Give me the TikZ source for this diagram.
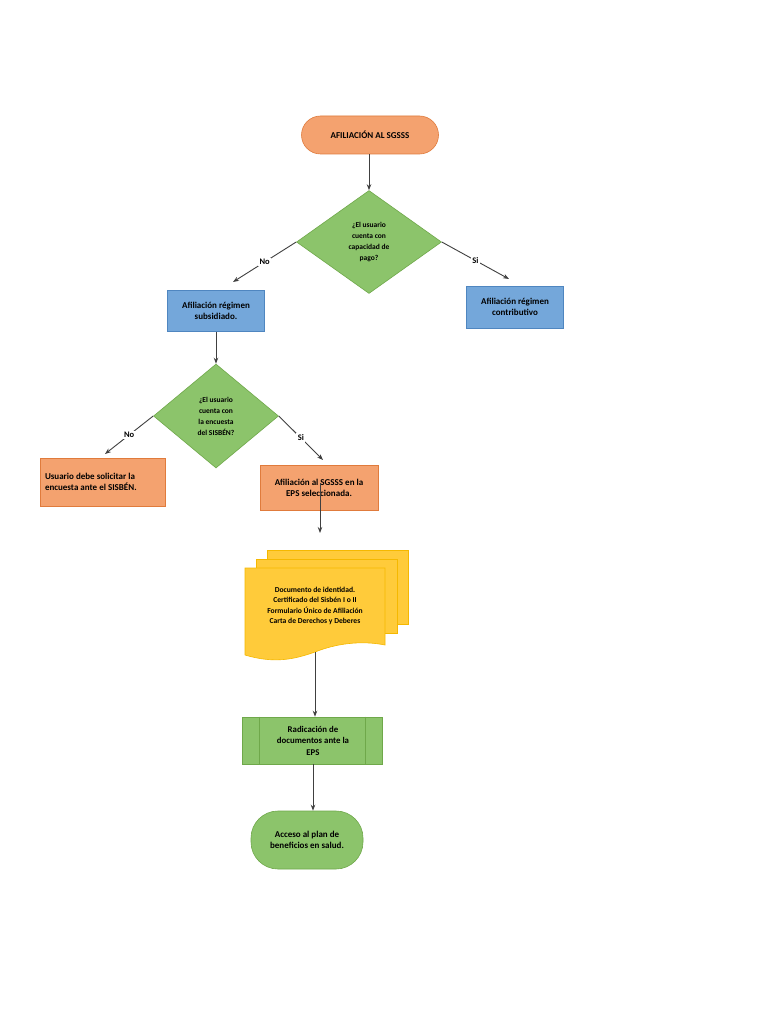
\documentclass[tikz,border=0pt]{standalone}
\usepackage{fontspec}
\setmainfont{Carlito}
\usetikzlibrary{shapes.geometric,arrows.meta}
\definecolor{orfill}{HTML}{F4A26F}
\definecolor{ordraw}{HTML}{E07B3C}
\definecolor{blfill}{HTML}{74A7DA}
\definecolor{bldraw}{HTML}{4F86C0}
\definecolor{grfill}{HTML}{8CC46B}
\definecolor{grdraw}{HTML}{6FA84A}
\definecolor{yefill}{HTML}{FFCB3A}
\definecolor{yedraw}{HTML}{F5B800}
\definecolor{arr}{HTML}{404040}
\tikzset{
  every node/.style={font=\bfseries\fontsize{9}{11}\selectfont, text=black, align=center},
  smalltxt/.style={font=\bfseries\fontsize{7.5}{11}\selectfont},
  termor/.style={draw=ordraw, fill=orfill, line width=0.6pt, rounded corners=19pt, minimum width=137pt, minimum height=38pt},
  blbox/.style={draw=bldraw, fill=blfill, line width=0.6pt, minimum width=97pt, minimum height=41pt, inner sep=2pt},
  orbox/.style={draw=ordraw, fill=orfill, line width=0.6pt, inner sep=2pt},
  dec/.style={diamond, draw=grdraw, fill=grfill, line width=0.6pt, inner sep=0pt, smalltxt},
  conn/.style={draw=arr, line width=0.9pt, -{Stealth[length=6pt,width=4.5pt]}},
  lbl/.style={fill=white, inner sep=1.5pt, font=\bfseries\fontsize{8.5}{10}\selectfont},
  docsheet/.style={draw=yedraw, fill=yefill, line width=0.6pt},
}
\begin{document}
\begin{tikzpicture}[x=1pt,y=-1pt]
\useasboundingbox[fill=white] (0,0) rectangle (768,1024);

% start
\node[termor] (start) at (370,135) {AFILIACIÓN AL SGSSS};

% decision 1
\node[dec, minimum width=145pt, minimum height=103pt, shape aspect=1.4] (d1) at (369,242)
  {¿El usuario\\cuenta con\\capacidad de\\pago?};

\node[blbox] (subs) at (216,311) {Afiliación régimen\\subsidiado.};
\node[blbox, minimum height=42pt] (contr) at (515,307) {Afiliación régimen\\contributivo};

\coordinate (e1) at (233,282);
\coordinate (e2) at (509,279);

% decision 2
\node[dec, minimum width=125pt, minimum height=104pt, shape aspect=1.2] (d2) at (216,416)
  {¿El usuario\\cuenta con\\la encuesta\\del SISBÉN?};

\node[orbox, minimum width=125pt, minimum height=48pt, align=flush left, text width=115pt, inner sep=5pt] (usu) at (102.5,482)
  {Usuario debe solicitar la\\encuesta ante el SISBÉN.};
\node[orbox, minimum width=118pt, minimum height=45pt] (eps) at (319,487.5)
  {Afiliación al SGSSS en la\\EPS seleccionada.};

\coordinate (e3) at (105,454);
\coordinate (e4) at (323,460);
\coordinate (e5) at (320,533);

% document stack
\path[docsheet] (267,550) rectangle (408,624);
\path[docsheet] (256,559) rectangle (397,633);
\path[docsheet] (245,568) -- (385,568) -- (385,645)
   .. controls (360,640) and (335,644) .. (315,652)
   .. controls (295,659) and (275,664) .. (245,655) -- cycle;
\node[smalltxt, font=\bfseries\fontsize{7.6}{10.6}\selectfont] (doc) at (315,606)
  {Documento de identidad.\\Certificado del Sisbén I o II\\Formulario Único de Afiliación\\Carta de Derechos y Deberes};
\coordinate (docb) at (315,652);

% predefined process
\node[draw=grdraw, fill=grfill, line width=0.6pt, minimum width=140pt, minimum height=47pt, inner sep=0pt] (rad) at (312,740.5) {};
\draw[grdraw, line width=0.6pt] ([xshift=18pt]rad.north west) -- ([xshift=18pt]rad.south west);
\draw[grdraw, line width=0.6pt] ([xshift=-17pt]rad.north east) -- ([xshift=-17pt]rad.south east);
\node[font=\bfseries\fontsize{8.8}{11.5}\selectfont] (radt) at (313,740.5) {Radicación de\\documentos ante la\\EPS};

% end terminal
\node[draw=grdraw, fill=grfill, line width=0.6pt, rounded corners=27pt, minimum width=112pt, minimum height=58pt] (acc) at (307,840)
  {Acceso al plan de\\beneficios en salud.};

% connectors
\draw[conn] (d1.north |- start.south) -- (d1.north);
\draw[conn] (d1.west) -- node[lbl] {No} (e1);
\draw[conn] (d1.east) -- node[lbl] {Si} (e2);
\draw[conn] (subs.south) -- (d2.north);
\draw[conn] (d2.west) -- node[lbl] {No} (e3);
\draw[conn] (d2.east) -- node[lbl] {Si} (e4);
\draw[conn] ([yshift=5pt]eps.center -| e5) -- (e5);
\draw[conn] (docb) -- (docb |- rad.north);
\draw[conn] ([xshift=1pt]rad.south) -- ([xshift=1pt]rad.south |- acc.north);
\end{tikzpicture}
\end{document}
